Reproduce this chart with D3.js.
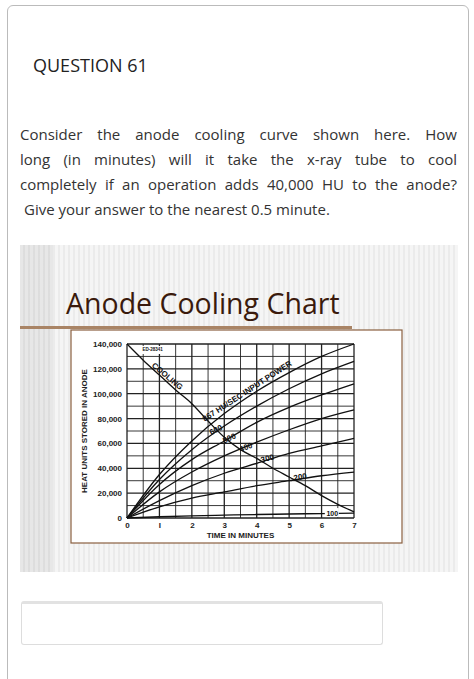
<!DOCTYPE html>
<html><head><meta charset="utf-8">
<script src="https://cdn.jsdelivr.net/npm/d3@7"></script>
<style>
body{margin:0;background:#fff;font-family:"Open Sans",sans-serif;}
#card{position:absolute;left:7px;top:5px;width:460px;height:700px;border:1px solid #bbb;border-radius:6px;}
#q{position:absolute;left:33px;top:53px;font-size:18px;color:#222;}
.ln{position:absolute;left:20px;width:437px;font-size:15px;color:#333;text-align:justify;text-align-last:justify;white-space:nowrap;}
#panel{position:absolute;left:20px;top:245px;width:438px;height:327px;
 background:linear-gradient(90deg,rgba(0,0,0,0.06) 0 33px,transparent 33px),repeating-linear-gradient(90deg,#f5f5f5 0 3px,#ebebeb 3px 5px);}
#ans{position:absolute;left:21px;top:601px;width:360px;height:40px;border:1px solid #ddd;border-top:3px solid #e2e2e2;border-radius:3px;}
svg{position:absolute;left:0;top:0;}
</style></head><body>
<div id="card"></div>
<div id="q">QUESTION 61</div>
<div class="ln" style="top:124px;display:flex;justify-content:space-between"><span>Consider</span><span>the</span><span>anode</span><span>cooling</span><span>curve</span><span>shown</span><span>here.</span><span>How</span></div>
<div class="ln" style="top:149px;display:flex;justify-content:space-between"><span>long</span><span>(in</span><span>minutes)</span><span>will</span><span>it</span><span>take</span><span>the</span><span>x-ray</span><span>tube</span><span>to</span><span>cool</span></div>
<div class="ln" style="top:174px;display:flex;justify-content:space-between"><span>completely</span><span>if</span><span>an</span><span>operation</span><span>adds</span><span>40,000</span><span>HU</span><span>to</span><span>the</span><span>anode?</span></div>
<div class="ln" style="top:199px;left:24px;text-align-last:left">Give your answer to the nearest 0.5 minute.</div>
<div id="panel"></div>
<div id="ans"></div>
<svg id="c" width="474" height="679"></svg>
<script>
const minutes = [0, 1, 2, 3, 4, 5, 6, 7];
const cooling = [[0,140000],[0.5,127000],[1,115000],[1.5,103000],[2,92000],[2.5,78000],[3,65000],[3.5,55000],[4,48000],[4.5,40000],[5,33000],[5.5,26000],[6,18000],[6.5,11000],[7,5000]];
const input867 = [0,35000,62000,84000,102000,117000,130000,140000];
const input600 = [0,31000,55000,74000,90000,104000,116000,126000];
const input500 = [0,27000,47000,62000,77000,89000,99000,108000];
const input400 = [0,21000,37000,50000,61000,71000,80000,87000];
const input300 = [0,14000,26000,36000,44000,52000,58000,64000];
const input200 = [0,9000,16000,21000,26000,30000,34000,37000];
const input100 = [0,1000,1700,2300,2800,3200,3600,4000];
const yTicks = [0,20000,40000,60000,80000,100000,120000,140000];

const svg = d3.select("#c");
svg.append("text").attr("x",66).attr("y",314).attr("font-size",28.5)
  .attr("font-family","Open Sans").attr("fill","#3a1a0c").text("Anode Cooling Chart");
svg.append("rect").attr("x",20).attr("y",326).attr("width",332).attr("height",3).attr("fill","#a98465");
svg.append("rect").attr("x",71).attr("y",330).attr("width",331).attr("height",213)
  .attr("fill","#fff").attr("stroke","#8a6040").attr("stroke-width",1.2);

const x = d3.scaleLinear().domain([0,7]).range([127,354]);
const y = d3.scaleLinear().domain([0,140000]).range([518,344]);
const g = svg.append("g").attr("font-family","Liberation Sans, Arial").attr("font-weight","bold").attr("fill","#222");

g.append("g").selectAll("line").data(d3.range(0,7.01,0.5)).join("line")
  .attr("x1",d=>x(d)).attr("x2",d=>x(d)).attr("y1",y(0)).attr("y2",y(140000))
  .attr("stroke","#222").attr("stroke-width",d=>d%1===0?1.3:0.9);
g.append("g").selectAll("line").data(d3.range(0,140001,10000)).join("line")
  .attr("x1",x(0)).attr("x2",x(7)).attr("y1",d=>y(d)).attr("y2",d=>y(d))
  .attr("stroke","#222").attr("stroke-width",d=>d%20000===0?1.3:0.9);

const xa = g.append("g").attr("transform",`translate(0,${y(0)})`)
  .call(d3.axisBottom(x).tickValues(minutes).tickSize(0).tickFormat(d=>d===1?"I":d));
xa.select(".domain").remove();
xa.selectAll("text").attr("font-size",8).attr("font-weight","bold").attr("fill","#222").attr("dy","0.9em");
const ya = g.append("g").attr("transform",`translate(${x(0)},0)`)
  .call(d3.axisLeft(y).tickValues(yTicks).tickSize(0).tickFormat(d=>d===0?"0":d3.format(",")(d)));
ya.select(".domain").remove();
ya.selectAll("text").attr("font-size",8).attr("font-weight","bold").attr("fill","#222").attr("dx","-2");
g.append("text").attr("x",x(3.5)).attr("y",538).attr("text-anchor","middle").attr("font-size",8).text("TIME IN MINUTES");
g.append("text").attr("transform",`translate(87,${y(70000)}) rotate(-90)`).attr("text-anchor","middle").attr("font-size",8).text("HEAT UNITS STORED IN ANODE");

const line = d3.line().x(d=>x(d[0])).y(d=>y(d[1])).curve(d3.curveMonotoneX);
[input867,input600,input500,input400,input300,input200,input100].forEach(s=>{
  g.append("path").attr("d",line(minutes.map((m,i)=>[m,s[i]]))).attr("fill","none").attr("stroke","#111").attr("stroke-width",1.3);
});
g.append("path").attr("d",line(cooling)).attr("fill","none").attr("stroke","#111").attr("stroke-width",1.3);

const lab = (t,xm,yv,ang,fs)=>g.append("text").attr("transform",`translate(${x(xm)},${y(yv)}) rotate(${ang})`).attr("font-size",fs||8).attr("fill","#111").text(t);
[["COOLING",0.75,122000,40],["867 HU/SEC INPUT POWER",2.4,77500,-33],["600",2.6,66500,-28],["500",3.0,60000,-24],["400",3.5,53000,-20],["300",4.15,44500,-15],["200",5.15,30000,-10]]
  .forEach(d=>lab(d[0],d[1],d[2],d[3]));
g.append("rect").attr("x",x(6.1)).attr("y",y(8000)).attr("width",14).attr("height",9).attr("fill","#fff");
lab("100",6.15,2000,0,7);
g.append("rect").attr("x",x(0.45)).attr("y",y(140000)+2).attr("width",26).attr("height",8).attr("fill","#fff");
lab("ED-28341",0.48,134000,0,4.5);
</script>
</body></html>
